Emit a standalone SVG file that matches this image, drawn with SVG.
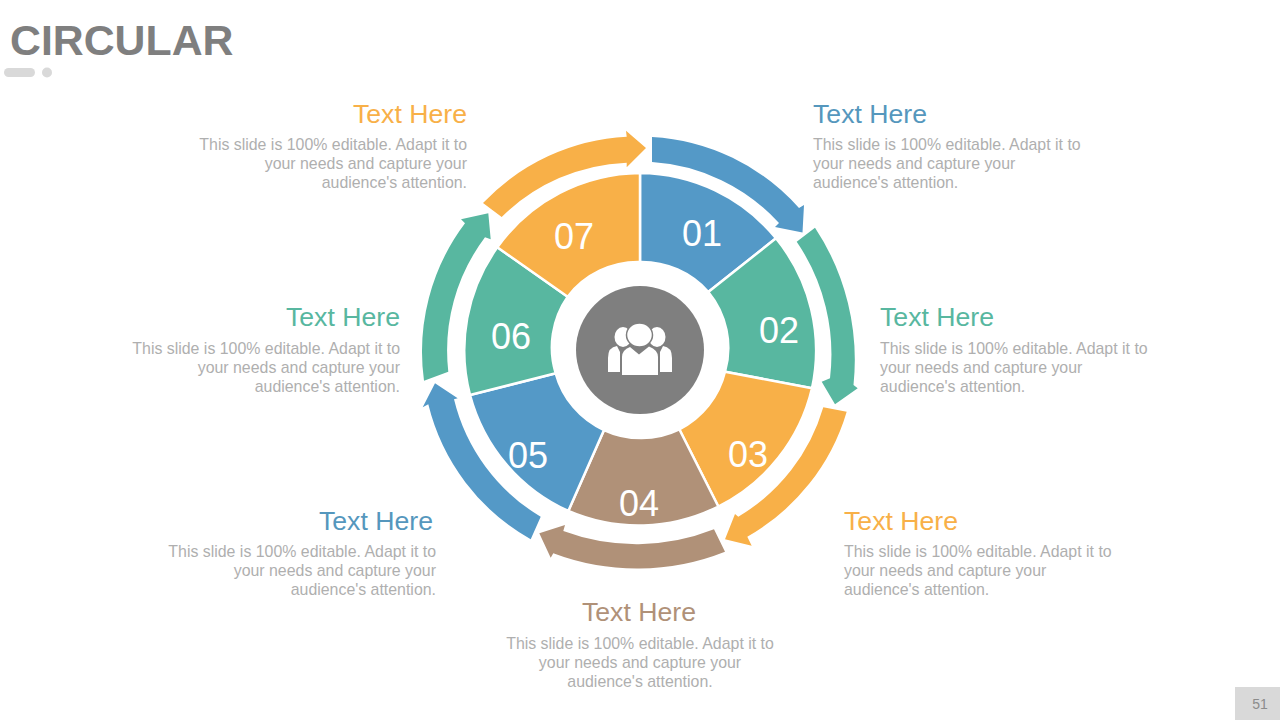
<svg xmlns="http://www.w3.org/2000/svg" width="1280" height="720" viewBox="0 0 1280 720">
<style>
text{font-family:"Liberation Sans",Arial,sans-serif}
.t{font-size:26.67px}.b{font-size:15.9px;fill:#afafaf}.n{font-size:36px;fill:#fff;text-anchor:middle}
.e{text-anchor:end}.m{text-anchor:middle}
.blue{fill:#5499c7}.teal{fill:#58b7a0}.orange{fill:#f8b048}.brown{fill:#b09178}
.tb{fill:#5597bd}.seg{stroke:#fff;stroke-width:2.5}
</style>
<rect width="1280" height="720" fill="#fff"/>
<g id="header">
<text x="10" y="54.500" font-size="42.8" font-weight="bold" fill="#7f7f7f">CIRCULAR</text>
<rect x="4" y="68" width="31" height="9" rx="4.5" fill="#d9d9d9"/>
<circle cx="47" cy="72.500" r="5" fill="#d9d9d9"/>
</g>
<g id="connectors">
<path class="blue" d="M652,137A213,213 0 0 1 799,208L804,205L802.5,232.500L775,227L779,223A188,188 0 0 0 652,162Z"/>
<path class="teal" d="M815,227.700A240,240 0 0 1 853.500,385L857.700,388.300L835,404.300L821.700,381.700L830,378.300A200,200 0 0 0 796.700,241.700Z"/>
<path class="orange" d="M846.700,411.700A213,213 0 0 1 747.300,536.700L751.700,545.700L725,539.300L735,514L738.300,516.700A188,188 0 0 0 823.300,407.300Z"/>
<path class="brown" d="M725,551.700A238,238 0 0 1 553.300,553.300L550.700,557.700L539.300,533.300L565,525L563.300,531A210,210 0 0 0 714,529.300Z"/>
<path class="blue" d="M530.700,539.300A213,213 0 0 1 428.300,404.300L422.700,407.300L435,383.300L457.700,398.300L454,399.300A188,188 0 0 0 540.700,516.700Z"/>
<path class="teal" d="M424,380.700A213,213 0 0 1 465,223.300L461,219.300L488.300,213.300L490.700,239.300L485,237.300A188,188 0 0 0 448.300,371.700Z"/>
<path class="orange" d="M483,203A213,213 0 0 1 626.700,136.700L626,130.700L646,148L626.700,167.300L626.700,162.700A188,188 0 0 0 501.700,217Z"/>
</g>
<g id="node1"><path class="blue seg" d="M640,173A177,177 0 0 1 776,238.300L708.300,292A89,89 0 0 0 640,262Z"/><text class="n" x="702" y="246">01</text>
<text class="t tb" x="813" y="123">Text Here</text><text class="b" x="813" y="150">This slide is 100% editable. Adapt it to</text><text class="b" x="813" y="169">your needs and capture your</text><text class="b" x="813" y="188">audience's attention.</text></g>
<g id="node2"><path class="teal seg" d="M776,238.300A177,177 0 0 1 812,388.300L725,371.700A88,88 0 0 0 708.300,292Z"/><text class="n" x="779" y="343">02</text>
<text class="t teal" x="880" y="326">Text Here</text><text class="b" x="880" y="354">This slide is 100% editable. Adapt it to</text><text class="b" x="880" y="373">your needs and capture your</text><text class="b" x="880" y="392">audience's attention.</text></g>
<g id="node3"><path class="orange seg" d="M812,388.300A177,177 0 0 1 718.300,506.500L679.300,429.300A88,88 0 0 0 725,371.700Z"/><text class="n" x="748" y="467">03</text>
<text class="t orange" x="844" y="530">Text Here</text><text class="b" x="844" y="557">This slide is 100% editable. Adapt it to</text><text class="b" x="844" y="576">your needs and capture your</text><text class="b" x="844" y="595">audience's attention.</text></g>
<g id="node4"><path class="brown seg" d="M718.300,506.500A177,177 0 0 1 568.300,511L604,430A88,88 0 0 0 679.300,429.300Z"/><text class="n" x="639" y="516">04</text>
<text class="t brown m" x="639" y="621">Text Here</text><text class="b m" x="640" y="649">This slide is 100% editable. Adapt it to</text><text class="b m" x="640" y="668">your needs and capture your</text><text class="b m" x="640" y="687">audience's attention.</text></g>
<g id="node5"><path class="blue seg" d="M568.300,511A177,177 0 0 1 470,395L555.700,373.300A88,88 0 0 0 604,430Z"/><text class="n" x="528" y="468">05</text>
<text class="t tb e" x="433" y="530">Text Here</text><text class="b e" x="436" y="557">This slide is 100% editable. Adapt it to</text><text class="b e" x="436" y="576">your needs and capture your</text><text class="b e" x="436" y="595">audience's attention.</text></g>
<g id="node6"><path class="teal seg" d="M470,395A177,177 0 0 1 497.300,247.300L567.700,296.700A89,89 0 0 0 555.700,373.300Z"/><text class="n" x="511" y="349">06</text>
<text class="t teal e" x="400" y="326">Text Here</text><text class="b e" x="400" y="354">This slide is 100% editable. Adapt it to</text><text class="b e" x="400" y="373">your needs and capture your</text><text class="b e" x="400" y="392">audience's attention.</text></g>
<g id="node7"><path class="orange seg" d="M497.300,247.300A177,177 0 0 1 640,173L640,262A89,89 0 0 0 567.700,296.700Z"/><text class="n" x="574" y="249">07</text>
<text class="t orange e" x="467" y="123">Text Here</text><text class="b e" x="467" y="150">This slide is 100% editable. Adapt it to</text><text class="b e" x="467" y="169">your needs and capture your</text><text class="b e" x="467" y="188">audience's attention.</text></g>
<g id="hub">
<circle cx="640" cy="350" r="64" fill="#7f7f7f"/>
<g fill="#fff">
<path d="M608,372V358Q608,347 617,346L620,352V372ZM672,372V358Q672,347 663,346L660,352V372Z"/>
<ellipse cx="623" cy="337" rx="8.500" ry="10"/><ellipse cx="657" cy="337" rx="8.500" ry="10"/>
<ellipse cx="639.500" cy="335" rx="13" ry="12" stroke="#7f7f7f" stroke-width="1.500"/>
<path d="M622,375V357Q622,350 630,347L639,354.500L649,346.500Q658,350 658,357V375Z"/>
</g>
</g>
<g id="page"><rect x="1235" y="687" width="45" height="33" fill="#d9d9d9"/><text x="1260" y="709" font-size="14" fill="#8c8c8c" text-anchor="middle">51</text></g>
</svg>
